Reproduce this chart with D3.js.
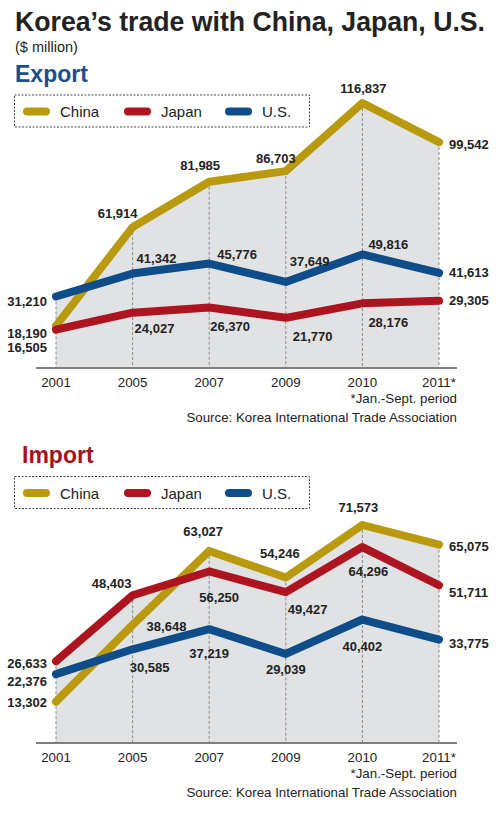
<!DOCTYPE html>
<meta charset="utf-8">
<style>
body { margin: 0; background: #fff; }
svg text { font-family: "Liberation Sans", Arial, sans-serif; fill: #222; }
.val { font-size: 13px; font-weight: bold; }
.tick { font-size: 13.3px; }
.note { font-size: 13.3px; }
</style>
<body>
<script src="https://cdn.jsdelivr.net/npm/d3@7"></script>
<script>

var years = ["2001", "2005", "2007", "2009", "2010", "2011*"];
var names = ["China", "Japan", "U.S."];
var colors = ["#b99a0f", "#ae1420", "#0e4d8a"];

// $ million
var exportChina = [18190, 61914, 81985, 86703, 116837, 99542];
var exportJapan = [16505, 24027, 26370, 21770, 28176, 29305];
var exportUS    = [31210, 41342, 45776, 37649, 49816, 41613];

var importChina = [13302, 38648, 63027, 54246, 71573, 65075];
var importJapan = [26633, 48403, 56250, 49427, 64296, 51711];
var importUS    = [22376, 30585, 37219, 29039, 40402, 33775];

// label placement [anchor, dx, dy] per point (layout only)
var exportLabels = [
  [["end",-9,12], ["middle",-15,-9], ["middle",-9,-11.5], ["middle",-10,-8.5], ["middle",1,-10.5], ["start",10,6.5]],
  [["end",-9,22.5], ["start",2,20.5], ["start",1,23.5], ["start",7,23.5], ["start",6,23.5], ["start",10,4.5]],
  [["end",-9,9.5], ["start",4,-10.5], ["start",8,-4.5], ["start",4,-15.5], ["start",6,-5.5], ["start",10,4.5]]
];
var importLabels = [
  [["end",-9,5.5], ["start",14,6.5], ["middle",-6,-14.5], ["middle",-6,-19.5], ["middle",-4,-13.5], ["start",10,6.5]],
  [["end",-9,6.5], ["middle",-21,-7.5], ["middle",10,30.5], ["start",2,21.5], ["middle",6,28.5], ["start",10,11.5]],
  [["end",-9,11.5], ["middle",17,22.5], ["middle",0,28.5], ["middle",0,20.5], ["middle",0,31.5], ["start",10,8.5]]
];

var svg = d3.select("body").append("svg")
    .attr("width", 500)
    .attr("height", 814);

svg.append("text")
    .attr("x", 15).attr("y", 31)
    .attr("textLength", 470).attr("lengthAdjust", "spacingAndGlyphs")
    .style("font-size", "27px").style("font-weight", "bold")
    .text("Korea\u2019s trade with China, Japan, U.S.");

svg.append("text")
    .attr("x", 15).attr("y", 52)
    .style("font-size", "14.5px")
    .text("($ million)");

var x = d3.scalePoint().domain(years).range([56, 439]);

// upper envelope of all series, with the crossing points between years
function envelope(series) {
  var pts = [];
  for (var i = 0; i < years.length - 1; i++) {
    var ts = [0, 1];
    series.forEach(function(a) {
      series.forEach(function(b) {
        var d0 = a[i] - b[i], d1 = a[i + 1] - b[i + 1];
        if (d0 * d1 < 0) ts.push(d0 / (d0 - d1));
      });
    });
    ts.sort(d3.ascending).forEach(function(t) {
      if (i > 0 && t === 0) return;
      var v = d3.max(series, function(s) { return s[i] + (s[i + 1] - s[i]) * t; });
      pts.push([x(years[i]) + (x(years[i + 1]) - x(years[i])) * t, v]);
    });
  }
  return pts;
}

function panel(o) {
  var g = svg.append("g");
  var y = d3.scaleLinear().domain([0, o.max]).range([o.base, o.top]);
  var series = o.series;
  var top = years.map(function(yr, i) { return d3.max(series, function(s) { return s[i]; }); });

  g.append("text")
      .attr("x", o.titleX).attr("y", o.titleY)
      .style("font-size", "23px").style("font-weight", "bold")
      .style("fill", o.titleColor)
      .text(o.title);

  // legend
  var ly = o.legendY;
  g.append("rect")
      .attr("x", 14.5).attr("y", ly - 16.5)
      .attr("width", 295).attr("height", 32)
      .attr("fill", "none").attr("stroke", "#444")
      .attr("stroke-width", 1).attr("stroke-dasharray", "2,1.5");
  var item = g.selectAll(".leg").data(names).enter().append("g")
      .attr("transform", function(d, i) { return "translate(" + (23 + i * 101) + "," + ly + ")"; });
  item.append("line")
      .attr("x1", 4).attr("x2", 23)
      .attr("stroke", function(d, i) { return colors[i]; })
      .attr("stroke-width", 8).attr("stroke-linecap", "round");
  item.append("text")
      .attr("x", 37).attr("y", 5.5)
      .style("font-size", "15px")
      .text(function(d) { return d; });

  // grey area under the top envelope
  g.append("path")
      .datum(envelope(series))
      .attr("fill", "#e1e2e4")
      .attr("d", d3.area()
        .x(function(d) { return d[0]; })
        .y0(y(0)).y1(function(d) { return y(d[1]); }));

  g.selectAll(".drop").data(top).enter().append("line")
      .attr("x1", function(d, i) { return x(years[i]); })
      .attr("x2", function(d, i) { return x(years[i]); })
      .attr("y1", function(d) { return y(d); })
      .attr("y2", y(0))
      .attr("stroke", "#8a8a8a").attr("stroke-width", 1)
      .attr("stroke-dasharray", "3,2");

  g.append("line")
      .attr("x1", 36).attr("x2", 457)
      .attr("y1", y(0) + 1).attr("y2", y(0) + 1)
      .attr("stroke", "#555").attr("stroke-width", 1.5);

  var line = d3.line()
      .x(function(d, i) { return x(years[i]); })
      .y(function(d) { return y(d); });

  series.forEach(function(s, k) {
    g.append("path")
        .datum(s)
        .attr("fill", "none")
        .attr("stroke", colors[k])
        .attr("stroke-width", 8)
        .attr("stroke-linejoin", "round")
        .attr("stroke-linecap", "round")
        .attr("d", line);
  });

  series.forEach(function(s, k) {
    g.selectAll(null).data(s).enter().append("text")
        .attr("class", "val")
        .attr("x", function(d, i) { return x(years[i]) + o.labels[k][i][1]; })
        .attr("y", function(d, i) { return y(d) + o.labels[k][i][2]; })
        .attr("text-anchor", function(d, i) { return o.labels[k][i][0]; })
        .text(function(d) { return d3.format(",")(d); });
  });

  g.selectAll(".tick").data(years).enter().append("text")
      .attr("class", "tick")
      .attr("x", function(d) { return x(d); })
      .attr("y", y(0) + 20)
      .attr("text-anchor", "middle")
      .text(function(d) { return d; });

  g.append("text").attr("class", "note")
      .attr("x", 457).attr("y", y(0) + 36)
      .attr("text-anchor", "end")
      .text("*Jan.-Sept. period");
  g.append("text").attr("class", "note")
      .attr("x", 457).attr("y", y(0) + 55)
      .attr("text-anchor", "end")
      .text("Source: Korea International Trade Association");
}

panel({
  title: "Export", titleColor: "#1d4f8c", titleX: 15, titleY: 82,
  legendY: 111.5,
  series: [exportChina, exportJapan, exportUS],
  labels: exportLabels,
  max: 116837, base: 367, top: 103
});

panel({
  title: "Import", titleColor: "#a3131d", titleX: 22, titleY: 463,
  legendY: 493,
  series: [importChina, importJapan, importUS],
  labels: importLabels,
  max: 71573, base: 742, top: 525
});

</script>
